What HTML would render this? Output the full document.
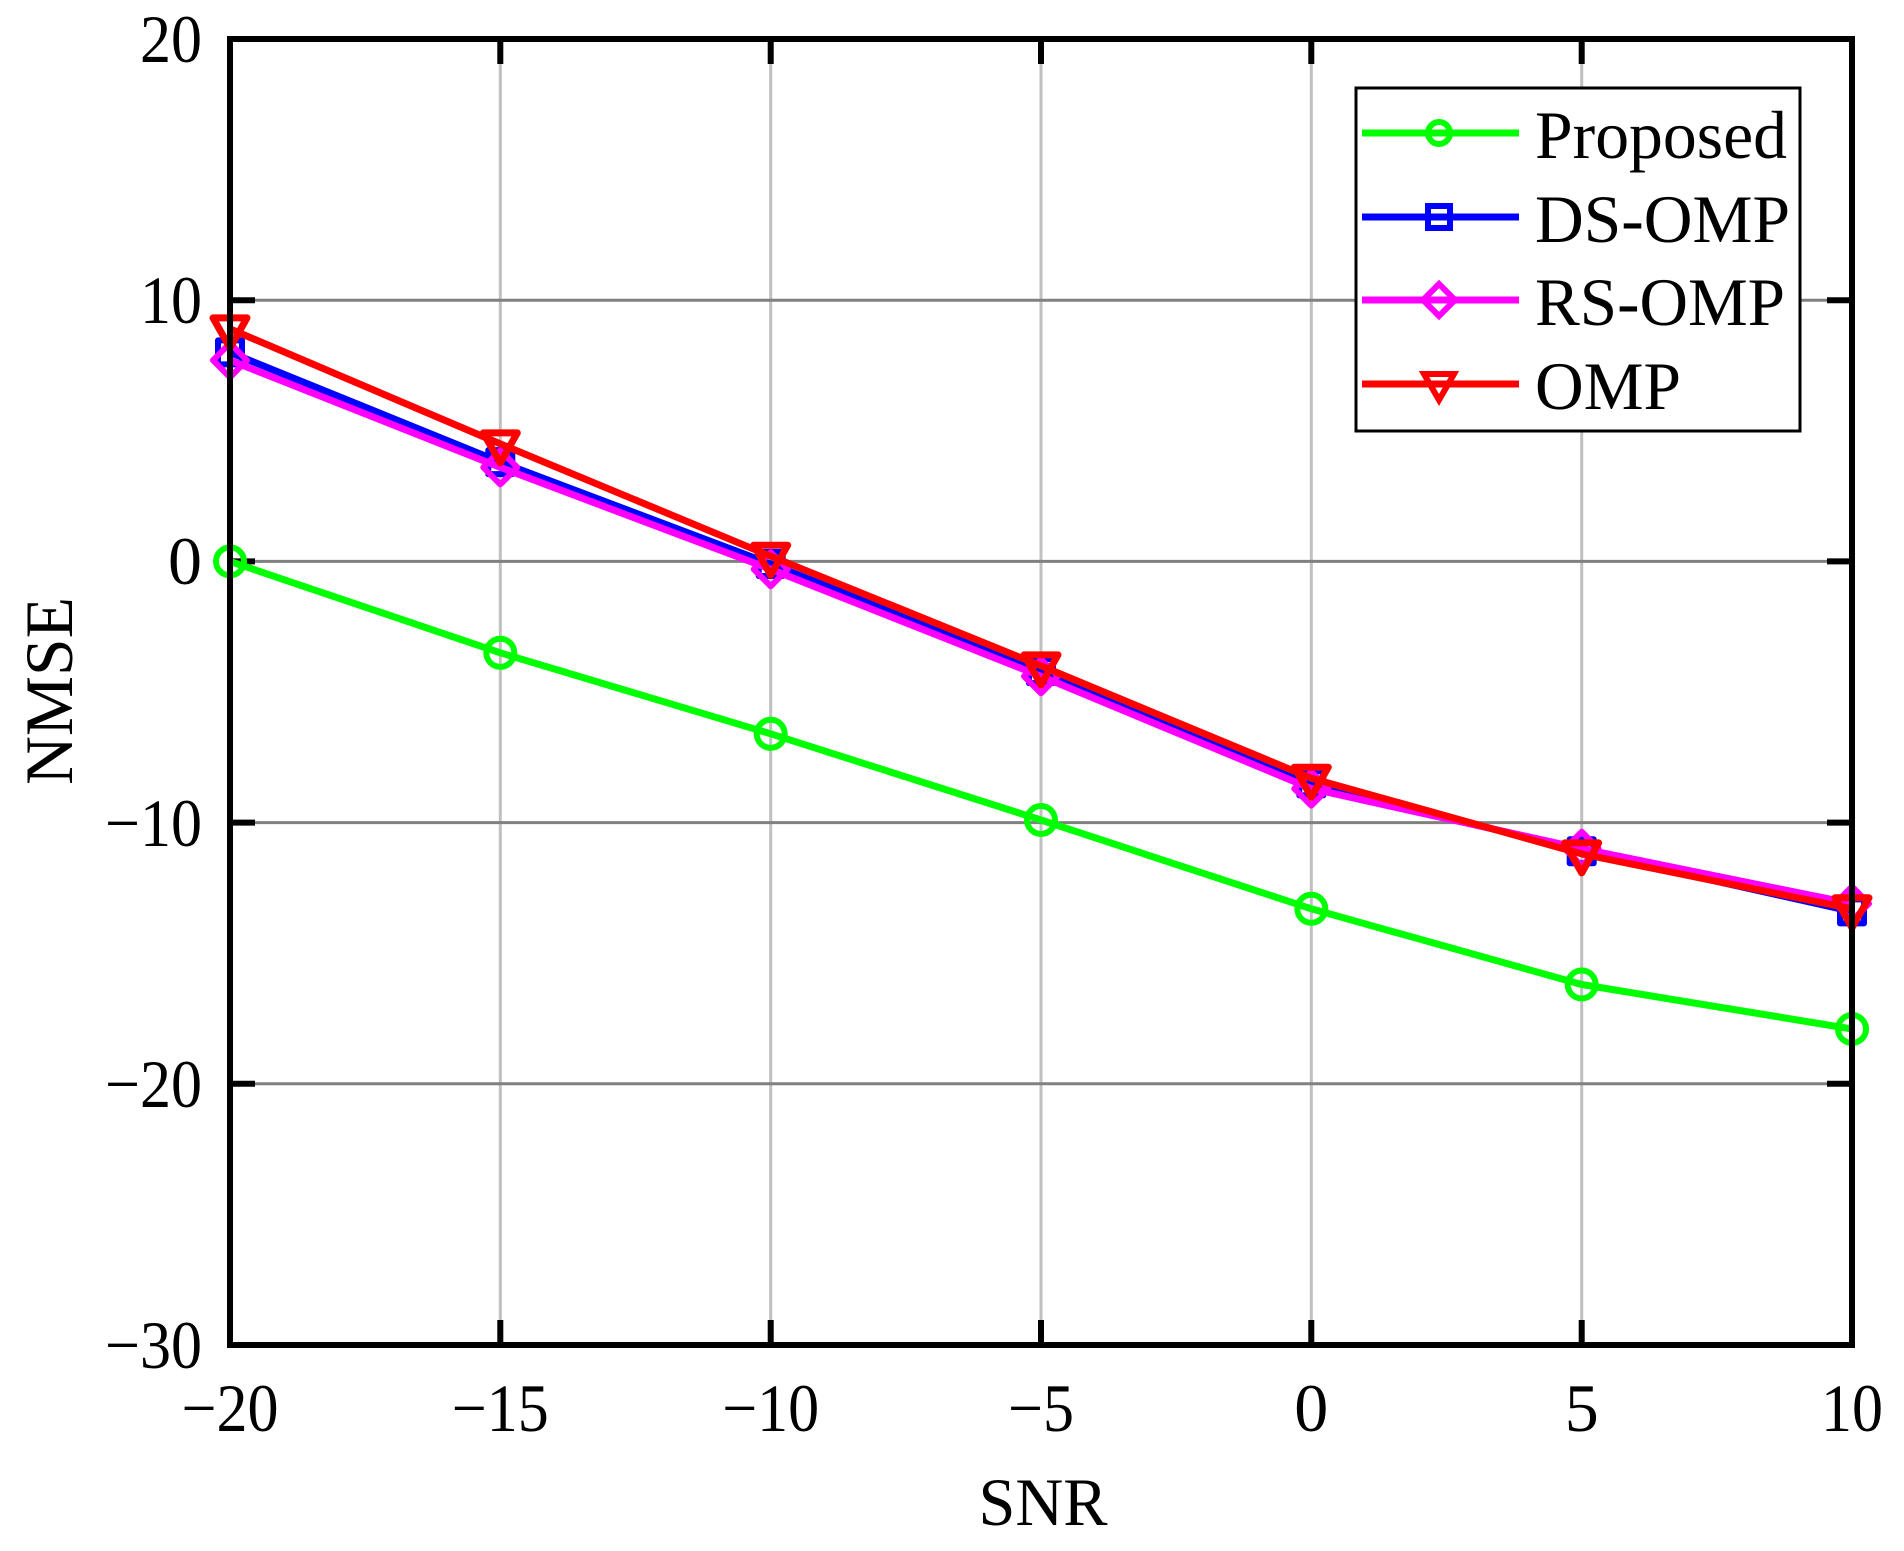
<!DOCTYPE html>
<html><head><meta charset="utf-8"><style>
html,body{margin:0;padding:0;background:#fff;}
svg{display:block;}
text{font-family:"Liberation Serif","Times New Roman",serif;fill:#000;}
</style></head><body>
<svg width="1904" height="1551" viewBox="0 0 1904 1551" xmlns="http://www.w3.org/2000/svg">
<rect width="1904" height="1551" fill="#fff"/>
<g stroke="#c0c0c0" stroke-width="3">
<line x1="500.3" y1="39" x2="500.3" y2="1345"/>
<line x1="770.7" y1="39" x2="770.7" y2="1345"/>
<line x1="1041" y1="39" x2="1041" y2="1345"/>
<line x1="1311.3" y1="39" x2="1311.3" y2="1345"/>
<line x1="1581.7" y1="39" x2="1581.7" y2="1345"/>
</g>
<g stroke="#808080" stroke-width="3">
<line x1="230" y1="300.2" x2="1852" y2="300.2"/>
<line x1="230" y1="561.4" x2="1852" y2="561.4"/>
<line x1="230" y1="822.6" x2="1852" y2="822.6"/>
<line x1="230" y1="1083.8" x2="1852" y2="1083.8"/>
</g>
<g stroke="#000" stroke-width="6">
<path d="M500.3 1345v-25M770.7 1345v-25M1041 1345v-25M1311.3 1345v-25M1581.7 1345v-25
M500.3 39v25M770.7 39v25M1041 39v25M1311.3 39v25M1581.7 39v25
M230 300.2h25M230 561.4h25M230 822.6h25M230 1083.8h25
M1852 300.2h-25M1852 561.4h-25M1852 822.6h-25M1852 1083.8h-25"/>
</g>
<g fill="none" stroke-width="7" stroke-linejoin="round">
<polyline stroke="#00ff00" points="230,561.4 500.3,652.8 770.7,733.8 1041,820 1311.3,908.8 1581.7,984.5 1852,1029"/>
<g stroke="#00ff00" stroke-width="6">
<circle cx="230" cy="561.4" r="14"/><circle cx="500.3" cy="652.8" r="14"/><circle cx="770.7" cy="733.8" r="14"/><circle cx="1041" cy="820" r="14"/><circle cx="1311.3" cy="908.8" r="14"/><circle cx="1581.7" cy="984.5" r="14"/><circle cx="1852" cy="1029" r="14"/>
</g>
<polyline stroke="#0000ff" points="230,352.4 500.3,462.1 770.7,564 1041,671.1 1311.3,783.4 1581.7,851.3 1852,911.4"/>
<g stroke="#0000ff" stroke-width="6">
<rect x="218" y="340.4" width="24" height="24"/><rect x="488.3" y="450.1" width="24" height="24"/><rect x="758.7" y="552" width="24" height="24"/><rect x="1029" y="659.1" width="24" height="24"/><rect x="1299.3" y="771.4" width="24" height="24"/><rect x="1569.7" y="839.3" width="24" height="24"/><rect x="1840" y="899.4" width="24" height="24"/>
</g>
<polyline stroke="#ff00ff" points="230,360.3 500.3,467.4 770.7,569.2 1041,676.3 1311.3,788.6 1581.7,848.7 1852,903.6"/>
<g stroke="#ff00ff" stroke-width="6">
<path d="M230 343.3l17 17-17 17-17-17z"/><path d="M500.3 450.4l17 17-17 17-17-17z"/><path d="M770.7 552.2l17 17-17 17-17-17z"/><path d="M1041 659.3l17 17-17 17-17-17z"/><path d="M1311.3 771.6l17 17-17 17-17-17z"/><path d="M1581.7 831.7l17 17-17 17-17-17z"/><path d="M1852 886.6l17 17-17 17-17-17z"/>
</g>
<polyline stroke="#ff0000" points="230,328.9 500.3,443.9 770.7,556.2 1041,665.9 1311.3,778.2 1581.7,853.9 1852,908.8"/>
<g stroke="#ff0000" stroke-width="7">
<path d="M213 317.9h34l-17 30z"/><path d="M483.3 432.9h34l-17 30z"/><path d="M753.7 545.2h34l-17 30z"/><path d="M1024 654.9h34l-17 30z"/><path d="M1294.3 767.2h34l-17 30z"/><path d="M1564.7 842.9h34l-17 30z"/><path d="M1835 897.8h34l-17 30z"/>
</g>
</g>
<rect x="230" y="39" width="1622" height="1306" fill="none" stroke="#000" stroke-width="6"/>
<rect x="1356" y="88" width="444" height="343" fill="#fff" stroke="#000" stroke-width="3"/>
<g fill="none" stroke-width="7">
<line x1="1362" y1="133" x2="1519" y2="133" stroke="#00ff00"/>
<circle cx="1439" cy="133" r="11" stroke="#00ff00" stroke-width="6"/>
<line x1="1362" y1="217" x2="1519" y2="217" stroke="#0000ff"/>
<rect x="1428" y="206" width="22" height="22" stroke="#0000ff" stroke-width="6"/>
<line x1="1362" y1="300" x2="1519" y2="300" stroke="#ff00ff"/>
<path d="M1439 284l16 16-16 16-16-16z" stroke="#ff00ff" stroke-width="6"/>
<line x1="1362" y1="384" x2="1519" y2="384" stroke="#ff0000"/>
<path d="M1424 374h30l-15 26z" stroke="#ff0000" stroke-width="6"/>
</g>
<g font-size="68">
<text x="1535" y="158" textLength="252" lengthAdjust="spacingAndGlyphs">Proposed</text>
<text x="1535" y="242" textLength="255" lengthAdjust="spacingAndGlyphs">DS-OMP</text>
<text x="1535" y="325" textLength="250" lengthAdjust="spacingAndGlyphs">RS-OMP</text>
<text x="1535" y="409" textLength="146" lengthAdjust="spacingAndGlyphs">OMP</text>
</g>
<g font-size="68" text-anchor="middle">
<text x="230" y="1431" textLength="97" lengthAdjust="spacingAndGlyphs">−20</text>
<text x="500.3" y="1431" textLength="97" lengthAdjust="spacingAndGlyphs">−15</text>
<text x="770.7" y="1431" textLength="97" lengthAdjust="spacingAndGlyphs">−10</text>
<text x="1041" y="1431" textLength="66" lengthAdjust="spacingAndGlyphs">−5</text>
<text x="1311.3" y="1431">0</text>
<text x="1581.7" y="1431">5</text>
<text x="1852" y="1431" textLength="62" lengthAdjust="spacingAndGlyphs">10</text>
</g>
<g font-size="68" text-anchor="end">
<text x="202" y="62" textLength="62" lengthAdjust="spacingAndGlyphs">20</text>
<text x="202" y="323" textLength="62" lengthAdjust="spacingAndGlyphs">10</text>
<text x="202" y="584">0</text>
<text x="202" y="846" textLength="97" lengthAdjust="spacingAndGlyphs">−10</text>
<text x="202" y="1107" textLength="97" lengthAdjust="spacingAndGlyphs">−20</text>
<text x="202" y="1368" textLength="97" lengthAdjust="spacingAndGlyphs">−30</text>
</g>
<text x="1043" y="1525" font-size="68" text-anchor="middle" textLength="129" lengthAdjust="spacingAndGlyphs">SNR</text>
<text transform="translate(72,691) rotate(-90)" font-size="68" text-anchor="middle" textLength="188" lengthAdjust="spacingAndGlyphs">NMSE</text>
</svg>
</body></html>
